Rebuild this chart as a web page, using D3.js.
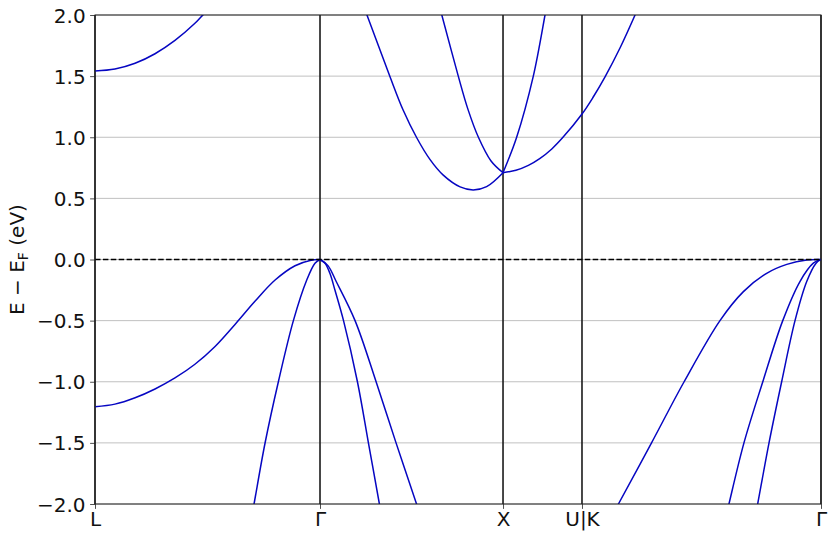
<!DOCTYPE html>
<html>
<head>
<meta charset="utf-8">
<script src="https://cdn.jsdelivr.net/npm/d3@7"></script>
<style>
html,body{margin:0;padding:0;background:#fff;}
svg{display:block;font-family:"DejaVu Sans",sans-serif;}
</style>
</head>
<body>
<svg id="chart" width="834" height="543"></svg>
<script>
// High-symmetry points (k-path distance) and labels
const kLabels = ["L", "Γ", "X", "U|K", "Γ"];
const kTicks = [0, 1.2295, 2.2295, 2.661, 3.967];
const yTicks = [-2.0, -1.5, -1.0, -0.5, 0.0, 0.5, 1.0, 1.5, 2.0];

// Bands: k values and energies (eV, relative to E_F)
const band1K = [0, 0.109, 0.219, 0.328, 0.437, 0.546, 0.586, 0.628];
const band1E = [1.542, 1.558, 1.605, 1.683, 1.792, 1.932, 1.995, 2.06];

const band2K = [0, 0.109, 0.219, 0.328, 0.437, 0.546, 0.656, 0.765, 0.874, 0.984, 1.093, 1.175, 1.2295];
const band2E = [-1.204, -1.183, -1.131, -1.059, -0.969, -0.857, -0.711, -0.531, -0.342, -0.168, -0.051, -0.008, 0];

const band3K = [0.847, 0.869, 0.929, 1.002, 1.084, 1.157, 1.202, 1.2295];
const band3E = [-2.18, -2.0, -1.503, -1.0, -0.5, -0.168, -0.031, 0];

const band4K = [1.2295, 1.257, 1.284, 1.311, 1.358, 1.434, 1.494, 1.554, 1.574];
const band4E = [0, -0.03, -0.115, -0.25, -0.5, -1.0, -1.5, -2.0, -2.18];

const band5K = [1.2295, 1.273, 1.318, 1.421, 1.536, 1.645, 1.757, 1.779];
const band5E = [0, -0.05, -0.18, -0.5, -1.0, -1.5, -2.0, -2.1];

const band6K = [1.470, 1.486, 1.612, 1.683, 1.758, 1.831, 1.903, 1.995, 2.067, 2.140, 2.2295];
const band6E = [2.06, 2.0, 1.495, 1.225, 0.996, 0.817, 0.69, 0.594, 0.569, 0.596, 0.71];

const band7K = [1.880, 1.895, 1.985, 2.038, 2.095, 2.164, 2.2295];
const band7E = [2.08, 2.0, 1.5, 1.228, 1.0, 0.806, 0.71];

const band8K = [2.2295, 2.304, 2.395, 2.459, 2.470];
const band8E = [0.71, 1.0, 1.5, 2.0, 2.09];

const band9K = [2.2295, 2.30, 2.368, 2.43, 2.496, 2.557, 2.661, 2.72, 2.787, 2.87, 2.951, 2.978];
const band9E = [0.71, 0.73, 0.77, 0.825, 0.904, 0.999, 1.19, 1.323, 1.494, 1.734, 2.0, 2.095];

const band10K = [2.814, 2.860, 3.041, 3.219, 3.415, 3.543, 3.670, 3.780, 3.889, 3.967];
const band10E = [-2.125, -2.0, -1.5, -1.0, -0.5, -0.263, -0.113, -0.04, -0.004, 0];

const band11K = [3.448, 3.464, 3.546, 3.649, 3.758, 3.852, 3.925, 3.967];
const band11E = [-2.1, -2.0, -1.5, -1.0, -0.5, -0.18, -0.03, 0];

const band12K = [3.601, 3.621, 3.683, 3.752, 3.825, 3.889, 3.940, 3.967];
const band12E = [-2.16, -2.0, -1.5, -1.0, -0.5, -0.18, -0.03, 0];

const bands = [
  [band1K, band1E], [band2K, band2E], [band3K, band3E], [band4K, band4E],
  [band5K, band5E], [band6K, band6E], [band7K, band7E], [band8K, band8E],
  [band9K, band9E], [band10K, band10E], [band11K, band11E], [band12K, band12E]
];

const margin = {left: 95, top: 15, right: 13, bottom: 39};
const W = 834, H = 543;
const iw = W - margin.left - margin.right;
const ih = H - margin.top - margin.bottom;

const svg = d3.select("#chart");
const g = svg.append("g").attr("transform", `translate(${margin.left},${margin.top})`);

const x = d3.scaleLinear().domain([kTicks[0], kTicks[kTicks.length - 1]]).range([0, iw]);
const y = d3.scaleLinear().domain([-2, 2]).range([ih, 0]);

svg.append("defs").append("clipPath").attr("id", "clip")
  .append("rect").attr("x", 0).attr("y", 0).attr("width", iw).attr("height", ih);

// grid
g.append("g").selectAll("line").data(yTicks).join("line")
  .attr("x1", 0).attr("x2", iw)
  .attr("y1", d => y(d)).attr("y2", d => y(d))
  .attr("stroke", "#b0b0b0").attr("stroke-width", 0.8);

// vertical high-symmetry lines
g.append("g").selectAll("line").data(kTicks).join("line")
  .attr("x1", d => x(d)).attr("x2", d => x(d))
  .attr("y1", 0).attr("y2", ih)
  .attr("stroke", "#1a1a1a").attr("stroke-width", 1.6);

// bands
const line = d3.line().x(d => x(d[0])).y(d => y(d[1])).curve(d3.curveCatmullRom.alpha(0.5));
g.append("g").attr("clip-path", "url(#clip)").selectAll("path").data(bands).join("path")
  .attr("d", b => line(b[0].map((k, i) => [k, b[1][i]])))
  .attr("fill", "none").attr("stroke", "#0606c2").attr("stroke-width", 1.5);

// zero line
g.append("line").attr("x1", 0).attr("x2", iw).attr("y1", y(0)).attr("y2", y(0))
  .attr("stroke", "#000").attr("stroke-width", 1.5).attr("stroke-dasharray", "5.5,2.4");

// axes
const yAxis = d3.axisLeft(y).tickValues(yTicks).tickFormat(d3.format(".1f")).tickSize(4.9).tickPadding(4.5);
const ya = g.append("g").call(yAxis);
ya.select(".domain").remove();
ya.selectAll("line").attr("stroke", "#222").attr("stroke-width", 0.8);
ya.selectAll("text").attr("font-size", 20).attr("fill", "#111")
  .attr("font-family", "DejaVu Sans").attr("dy", "0.35em");

const xAxis = d3.axisBottom(x).tickValues(kTicks).tickFormat((d, i) => kLabels[i]).tickSize(4.9).tickPadding(3);
const xa = g.append("g").attr("transform", `translate(0,${ih})`).call(xAxis);
xa.select(".domain").remove();
xa.selectAll("line").attr("stroke", "#222").attr("stroke-width", 0.8);
xa.selectAll("text").attr("font-size", 20).attr("fill", "#111").attr("font-family", "DejaVu Sans");

// frame
g.append("rect").attr("x", 0).attr("y", 0).attr("width", iw).attr("height", ih)
  .attr("fill", "none").attr("stroke", "#222").attr("stroke-width", 1);

// y label
const yl = svg.append("text")
  .attr("transform", `translate(24,${margin.top + ih / 2}) rotate(-90)`)
  .attr("text-anchor", "middle").attr("font-size", 20).attr("fill", "#111")
  .attr("font-family", "DejaVu Sans");
yl.append("tspan").text("E − E");
yl.append("tspan").attr("font-size", 14).attr("dy", 4).text("F");
yl.append("tspan").attr("dy", -4).text(" (eV)");
</script>
</body>
</html>
